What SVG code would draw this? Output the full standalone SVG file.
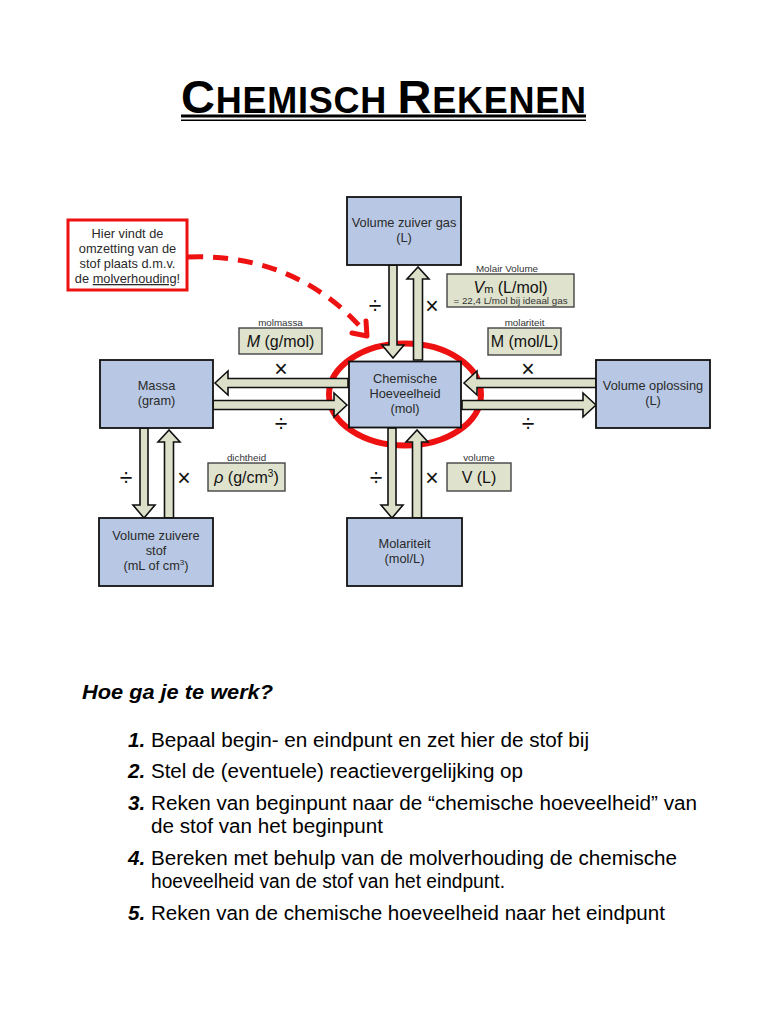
<svg xmlns="http://www.w3.org/2000/svg" width="768" height="1024" viewBox="0 0 768 1024">
<style>
text{font-family:"Liberation Sans",Arial,sans-serif;fill:#000}
.box{fill:#b8c8e4;stroke:#111;stroke-width:1.8}
.bt{font-size:12.8px;fill:#2a2a2a;text-anchor:middle}
.arr{fill:#dde0c9;stroke:#111;stroke-width:1.6;stroke-linejoin:miter}
.lb{fill:#dfe2cd;stroke:#444;stroke-width:1.4}
.small{font-size:9.8px;fill:#333;text-anchor:middle}
.big{font-size:16px;fill:#111;text-anchor:middle}
.op{font-size:23px;text-anchor:middle;fill:#111}
.li{font-size:20px}
.num{font-weight:bold;font-style:italic}
</style>
<rect width="768" height="1024" fill="#fff"/>
<g id="title">
<text x="181" y="113" font-weight="bold" font-size="36" textLength="405"><tspan font-size="47">C</tspan>HEMISCH <tspan font-size="47">R</tspan>EKENEN</text>
<rect x="181" y="114.5" width="405" height="3" fill="#000"/>
<rect x="181" y="119.5" width="405" height="1.5" fill="#000"/>
</g>
<ellipse id="focus" cx="405" cy="394.5" rx="76" ry="51" fill="none" stroke="#ee1111" stroke-width="6"/>
<g id="connectors">
<polygon class="arr" points="215,383 228,371 228,378.5 348,378.5 348,387.5 228,387.5 228,395"/>
<polygon class="arr" points="347,405 334,393 334,400.5 213,400.5 213,409.5 334,409.5 334,417"/>
<polygon class="arr" points="464,383 477,371 477,378.5 596,378.5 596,387.5 477,387.5 477,395"/>
<polygon class="arr" points="596,405 583,393 583,400.5 462,400.5 462,409.5 583,409.5 583,417"/>
<polygon class="arr" points="393,358 382,345 389,345 389,265 397,265 397,345 404,345"/>
<polygon class="arr" points="418,267 407,279 413.5,279 413.5,360 422.5,360 422.5,279 429,279"/>
<polygon class="arr" points="392,518 381,505 388,505 388,428 396,428 396,505 403,505"/>
<polygon class="arr" points="417,430 406,442 412.5,442 412.5,518 421.5,518 421.5,442 428,442"/>
<polygon class="arr" points="144,518 133,505 140,505 140,428 148,428 148,505 155,505"/>
<polygon class="arr" points="169,430 158,442 164.5,442 164.5,518 173.5,518 173.5,442 180,442"/>
<path d="M188,257 C262,254 322,282 364,331" fill="none" stroke="#ee1111" stroke-width="5" stroke-dasharray="15,10"/>
<path d="M352,333 L367,336 L366,321" fill="none" stroke="#ee1111" stroke-width="5" stroke-linejoin="round" stroke-linecap="round"/>
</g>
<g id="ops">
<text class="op" x="375" y="314">÷</text>
<text class="op" x="432" y="314">×</text>
<text class="op" x="281" y="377">×</text>
<text class="op" x="281" y="432">÷</text>
<text class="op" x="528" y="377">×</text>
<text class="op" x="528" y="432">÷</text>
<text class="op" x="126" y="486">÷</text>
<text class="op" x="184" y="486">×</text>
<text class="op" x="376" y="486">÷</text>
<text class="op" x="432" y="486">×</text>
</g>
<g id="note">
<rect x="68" y="220" width="119" height="70" fill="#fff" stroke="#ee1111" stroke-width="3"/>
<text class="bt" x="127.5" y="238" fill="#111">Hier vindt de</text>
<text class="bt" x="127.5" y="253">omzetting van de</text>
<text class="bt" x="127.5" y="268">stof plaats d.m.v.</text>
<text class="bt" x="127.5" y="283">de <tspan text-decoration="underline">molverhouding</tspan>!</text>
</g>
<g id="gas">
<rect class="box" x="347" y="197" width="114" height="68"/>
<text class="bt" x="404" y="227">Volume zuiver gas</text>
<text class="bt" x="404" y="242">(L)</text>
</g>
<g id="massa">
<rect class="box" x="100" y="360" width="113" height="68"/>
<text class="bt" x="156.5" y="390">Massa</text>
<text class="bt" x="156.5" y="405">(gram)</text>
</g>
<g id="chem">
<rect class="box" x="349" y="361.5" width="112" height="66" stroke-width="4"/>
<text class="bt" x="405" y="383">Chemische</text>
<text class="bt" x="405" y="398">Hoeveelheid</text>
<text class="bt" x="405" y="413">(mol)</text>
</g>
<g id="oplossing">
<rect class="box" x="596" y="360" width="114" height="68"/>
<text class="bt" x="653" y="390">Volume oplossing</text>
<text class="bt" x="653" y="405">(L)</text>
</g>
<g id="zuiverestof">
<rect class="box" x="99" y="518" width="114" height="68"/>
<text class="bt" x="156" y="540">Volume zuivere</text>
<text class="bt" x="156" y="555">stof</text>
<text class="bt" x="156" y="570">(mL of cm<tspan font-size="8" dy="-5">3</tspan><tspan dy="5">)</tspan></text>
</g>
<g id="molariteit">
<rect class="box" x="347" y="518" width="115" height="68"/>
<text class="bt" x="404.5" y="548">Molariteit</text>
<text class="bt" x="404.5" y="563">(mol/L)</text>
</g>
<g id="lbl-molmassa">
<text class="small" x="280.5" y="326">molmassa</text>
<rect class="lb" x="239" y="328" width="83" height="26"/>
<text class="big" x="280.5" y="347"><tspan font-style="italic">M</tspan> (g/mol)</text>
</g>
<g id="lbl-vm">
<text class="small" x="507" y="272">Molair Volume</text>
<rect class="lb" x="447" y="274" width="127" height="33"/>
<text class="big" x="510.5" y="293"><tspan font-style="italic">V</tspan><tspan font-size="11">m</tspan> (L/mol)</text>
<text class="small" x="510.5" y="304" fill="#222">= 22,4 L/mol bij ideaal gas</text>
</g>
<g id="lbl-molariteit">
<text class="small" x="524.5" y="326">molariteit</text>
<rect class="lb" x="488" y="328" width="73" height="27"/>
<text class="big" x="524.5" y="347">M (mol/L)</text>
</g>
<g id="lbl-dichtheid">
<text class="small" x="246.5" y="461">dichtheid</text>
<rect class="lb" x="208" y="463" width="77" height="28"/>
<text class="big" x="246.5" y="483"><tspan font-style="italic">ρ</tspan> (g/cm<tspan font-size="10" dy="-6">3</tspan><tspan dy="6">)</tspan></text>
</g>
<g id="lbl-volume">
<text class="small" x="479" y="461">volume</text>
<rect class="lb" x="447" y="463" width="64" height="28"/>
<text class="big" x="479" y="483">V (L)</text>
</g>
<g id="steps">
<text x="82" y="699" font-size="20.5" font-weight="bold" font-style="italic" textLength="191" lengthAdjust="spacingAndGlyphs">Hoe ga je te werk?</text>
<text class="li" x="128" y="747" textLength="461" lengthAdjust="spacingAndGlyphs"><tspan class="num">1.</tspan> Bepaal begin- en eindpunt en zet hier de stof bij</text>
<text class="li" x="128" y="778" textLength="395" lengthAdjust="spacingAndGlyphs"><tspan class="num">2.</tspan> Stel de (eventuele) reactievergelijking op</text>
<text class="li" x="128" y="810" textLength="569" lengthAdjust="spacingAndGlyphs"><tspan class="num">3.</tspan> Reken van beginpunt naar de “chemische hoeveelheid” van</text>
<text class="li" x="151" y="833" textLength="232" lengthAdjust="spacingAndGlyphs">de stof van het beginpunt</text>
<text class="li" x="128" y="865" textLength="549" lengthAdjust="spacingAndGlyphs"><tspan class="num">4.</tspan> Bereken met behulp van de molverhouding de chemische</text>
<text class="li" x="151" y="888" textLength="354" lengthAdjust="spacingAndGlyphs">hoeveelheid van de stof van het eindpunt.</text>
<text class="li" x="128" y="920" textLength="537" lengthAdjust="spacingAndGlyphs"><tspan class="num">5.</tspan> Reken van de chemische hoeveelheid naar het eindpunt</text>
</g>
</svg>
